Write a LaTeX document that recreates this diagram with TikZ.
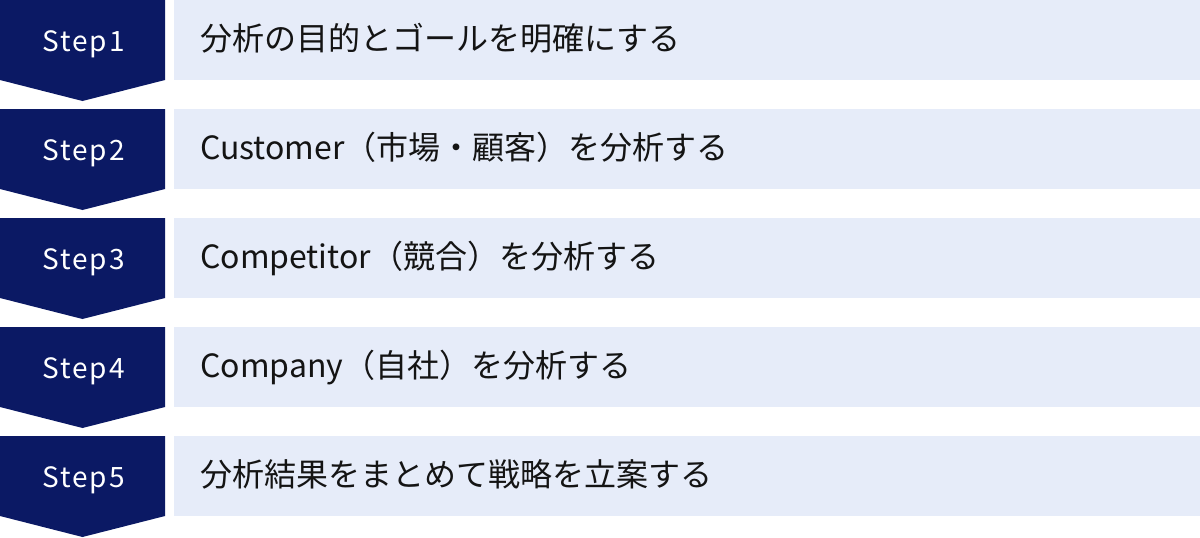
\documentclass[tikz,border=0pt]{standalone}
\usepackage{fontspec}
\setmainfont{Noto Sans CJK JP}
\newfontfamily\steplbl[LetterSpace=7]{Noto Sans CJK JP}
\definecolor{navy}{RGB}{11,25,100}
\definecolor{lightbg}{RGB}{230,236,249}
\definecolor{txt}{RGB}{20,20,20}
\begin{document}
\begin{tikzpicture}[x=1pt,y=-1pt,
  stepshape/.style={fill=navy,draw=none},
  bar/.style={fill=lightbg,draw=none},
  steplabel/.style={text=white,font=\steplbl\fontsize{28}{32}\selectfont,inner sep=0pt,anchor=base},
  bartext/.style={text=txt,font=\fontsize{32}{38}\selectfont,inner sep=0pt,anchor=base west}]
\useasboundingbox (0,0) rectangle (1200,538);
\foreach \i/\t in {1/{分析の目的とゴールを明確にする},2/{Customer（市場・顧客）を分析する},3/{Competitor（競合）を分析する},4/{Company（自社）を分析する},5/{分析結果をまとめて戦略を立案する}}{
  \pgfmathsetmacro{\top}{(\i-1)*109}
  \fill[stepshape] (0,\top) -- (165,\top) -- (165,\top+80) -- (82.5,\top+101) -- (0,\top+80) -- cycle;
  \fill[bar] (174,\top) rectangle (1200,\top+80);
  \node[steplabel] (s\i) at (83.5,\top+51) {Step\i};
  \node[bartext] (t\i) at (200,\top+50) {\t};
}
\end{tikzpicture}
\end{document}
